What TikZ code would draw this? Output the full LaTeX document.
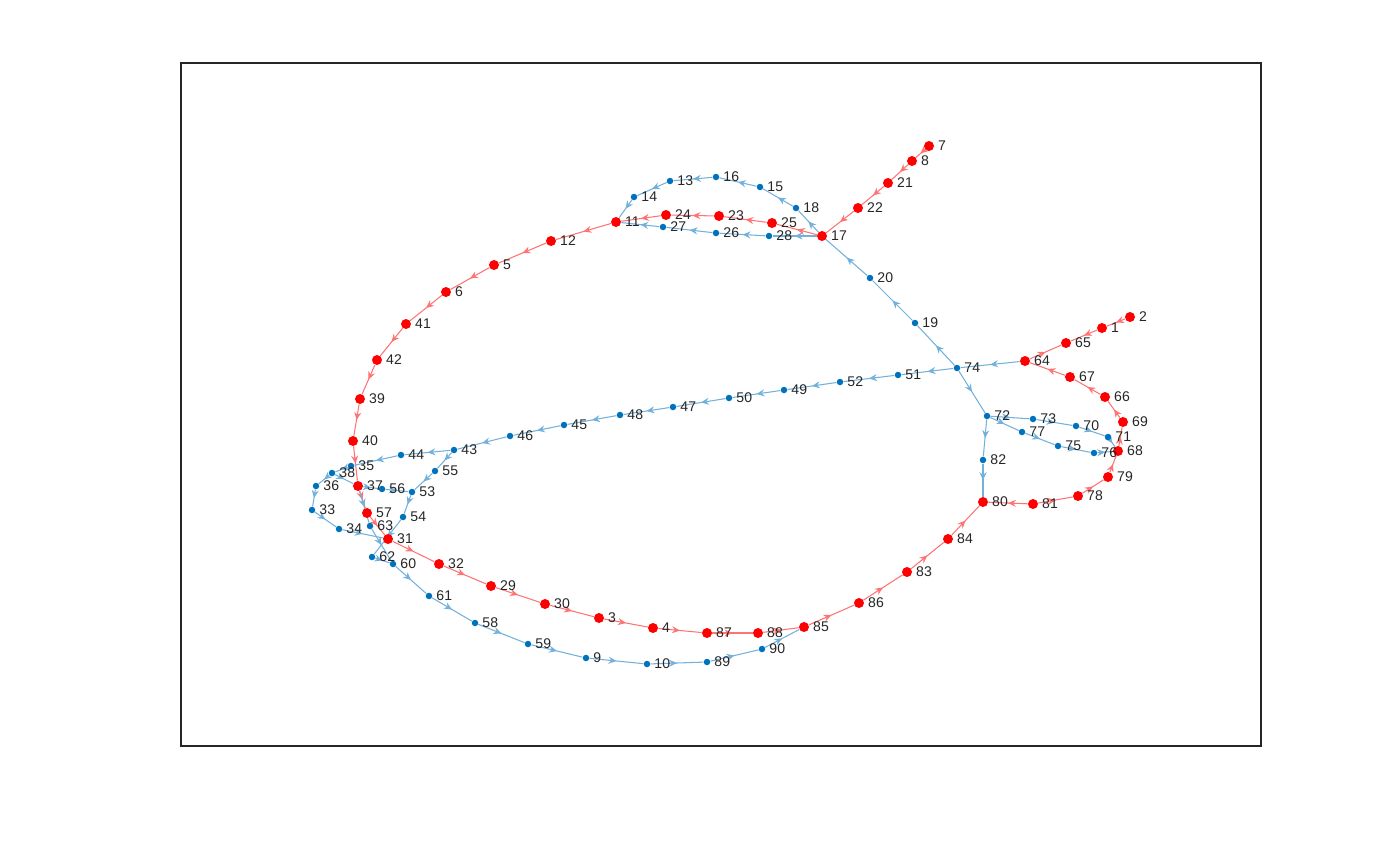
\documentclass[tikz,border=0pt]{standalone}
\usepackage{fontspec}
\setmainfont{Liberation Sans}
\usepackage{tikz}
\usetikzlibrary{arrows.meta, decorations.markings}
\definecolor{mblue}{RGB}{0,114,189}
\definecolor{lblgray}{RGB}{38,38,38}
\pgfdeclarelayer{edges}
\pgfsetlayers{edges,main}
\tikzset{
  rnode/.style={circle, fill=red, inner sep=0pt, minimum size=0.2cm}, % nodes on the path
  bnode/.style={circle, fill=mblue, inner sep=0pt, minimum size=0.13cm}, % other nodes
  every label/.style={font=\fontsize{8}{9}\selectfont, text=lblgray, inner sep=0pt},
  label distance=2pt,
  midarrow/.style={postaction={decorate, decoration={markings,
      mark=at position 0.5 with {\arrow{Stealth[length=4.5pt, width=4pt, inset=1.5pt]}}}}},
  redge/.style={draw=red!55, line width=0.6pt, midarrow}, % edges on the path
  bedge/.style={draw=mblue!55, line width=0.6pt, midarrow},
}
\begin{document}
\begin{tikzpicture}[x=0.02cm, y=-0.02cm]
  \useasboundingbox (0,0) rectangle (1394,840);
  \draw[lblgray, line width=0.6pt] (181,63) rectangle (1261,746);

  % red nodes
  \node[rnode, label=right:7] (v7) at (929,146) {};
  \node[rnode, label=right:8] (v8) at (912,161) {};
  \node[rnode, label=right:21] (v21) at (888,183) {};
  \node[rnode, label=right:22] (v22) at (858,208) {};
  \node[rnode, label=right:17] (v17) at (822,236) {};
  \node[rnode, label=right:25] (v25) at (772,223) {};
  \node[rnode, label=right:23] (v23) at (719,216) {};
  \node[rnode, label=right:24] (v24) at (666,215) {};
  \node[rnode, label=right:11] (v11) at (616,222) {};
  \node[rnode, label=right:12] (v12) at (551,241) {};
  \node[rnode, label=right:5] (v5) at (494,265) {};
  \node[rnode, label=right:6] (v6) at (446,292) {};
  \node[rnode, label=right:41] (v41) at (406,324) {};
  \node[rnode, label=right:42] (v42) at (377,360) {};
  \node[rnode, label=right:39] (v39) at (360,399) {};
  \node[rnode, label=right:40] (v40) at (353,441) {};
  \node[rnode, label=right:37] (v37) at (358,486) {};
  \node[rnode, label=right:57] (v57) at (367,513) {};
  \node[rnode, label=right:31] (v31) at (388,539) {};
  \node[rnode, label=right:32] (v32) at (439,564) {};
  \node[rnode, label=right:29] (v29) at (491,586) {};
  \node[rnode, label=right:30] (v30) at (545,604) {};
  \node[rnode, label=right:3] (v3) at (599,618) {};
  \node[rnode, label=right:4] (v4) at (653,628) {};
  \node[rnode, label=right:87] (v87) at (707,633) {};
  \node[rnode, label=right:88] (v88) at (758,633) {};
  \node[rnode, label=right:85] (v85) at (804,627) {};
  \node[rnode, label=right:86] (v86) at (859,603) {};
  \node[rnode, label=right:83] (v83) at (907,572) {};
  \node[rnode, label=right:84] (v84) at (948,539) {};
  \node[rnode, label=right:80] (v80) at (983,502) {};
  \node[rnode, label=right:81] (v81) at (1033,504) {};
  \node[rnode, label=right:78] (v78) at (1078,496) {};
  \node[rnode, label=right:79] (v79) at (1108,477) {};
  \node[rnode, label=right:68] (v68) at (1118,451) {};
  \node[rnode, label=right:69] (v69) at (1123,422) {};
  \node[rnode, label=right:66] (v66) at (1105,397) {};
  \node[rnode, label=right:67] (v67) at (1070,377) {};
  \node[rnode, label=right:64] (v64) at (1025,361) {};
  \node[rnode, label=right:65] (v65) at (1066,343) {};
  \node[rnode, label=right:1] (v1) at (1102,328) {};
  \node[rnode, label=right:2] (v2) at (1130,317) {};

  % blue nodes
  \node[bnode, label=right:18] (v18) at (796,208) {};
  \node[bnode, label=right:15] (v15) at (760,187) {};
  \node[bnode, label=right:16] (v16) at (716,177) {};
  \node[bnode, label=right:13] (v13) at (670,181) {};
  \node[bnode, label=right:14] (v14) at (634,197) {};
  \node[bnode, label=right:27] (v27) at (663,227) {};
  \node[bnode, label=right:26] (v26) at (716,233) {};
  \node[bnode, label=right:28] (v28) at (769,236) {};
  \node[bnode, label=right:20] (v20) at (870,278) {};
  \node[bnode, label=right:19] (v19) at (915,323) {};
  \node[bnode, label=right:74] (v74) at (957,368) {};
  \node[bnode, label=right:51] (v51) at (898,375) {};
  \node[bnode, label=right:52] (v52) at (840,382) {};
  \node[bnode, label=right:49] (v49) at (784,390) {};
  \node[bnode, label=right:50] (v50) at (729,398) {};
  \node[bnode, label=right:47] (v47) at (673,407) {};
  \node[bnode, label=right:48] (v48) at (620,415) {};
  \node[bnode, label=right:45] (v45) at (564,425) {};
  \node[bnode, label=right:46] (v46) at (510,436) {};
  \node[bnode, label=right:43] (v43) at (454,450) {};
  \node[bnode, label=right:44] (v44) at (401,455) {};
  \node[bnode, label=right:35] (v35) at (351,466) {};
  \node[bnode, label=right:38] (v38) at (332,473) {};
  \node[bnode, label=right:36] (v36) at (316,486) {};
  \node[bnode, label=right:33] (v33) at (312,510) {};
  \node[bnode, label=right:34] (v34) at (339,529) {};
  \node[bnode, label=right:56] (v56) at (382,489) {};
  \node[bnode, label=right:53] (v53) at (412,492) {};
  \node[bnode, label=right:55] (v55) at (435,471) {};
  \node[bnode, label=right:54] (v54) at (403,517) {};
  \node[bnode, label=right:63] (v63) at (370,526) {};
  \node[bnode, label=right:62] (v62) at (372,557) {};
  \node[bnode, label=right:60] (v60) at (393,564) {};
  \node[bnode, label=right:61] (v61) at (429,596) {};
  \node[bnode, label=right:58] (v58) at (475,623) {};
  \node[bnode, label=right:59] (v59) at (528,644) {};
  \node[bnode, label=right:9] (v9) at (586,658) {};
  \node[bnode, label=right:10] (v10) at (647,664) {};
  \node[bnode, label=right:89] (v89) at (707,662) {};
  \node[bnode, label=right:90] (v90) at (762,649) {};
  \node[bnode, label=right:72] (v72) at (987,416) {};
  \node[bnode, label=right:73] (v73) at (1033,419) {};
  \node[bnode, label=right:70] (v70) at (1076,426) {};
  \node[bnode, label=right:71] (v71) at (1108,437) {};
  \node[bnode, label=right:77] (v77) at (1022,432) {};
  \node[bnode, label=right:75] (v75) at (1058,446) {};
  \node[bnode, label=right:76] (v76) at (1094,453) {};
  \node[bnode, label=right:82] (v82) at (983,460) {};

  \begin{pgfonlayer}{edges}
  % red edges
  \draw[redge] (v7) -- (v8);
  \draw[redge] (v8) -- (v21);
  \draw[redge] (v21) -- (v22);
  \draw[redge] (v22) -- (v17);
  \draw[redge] (v17) -- (v25);
  \draw[redge] (v25) -- (v23);
  \draw[redge] (v23) -- (v24);
  \draw[redge] (v24) -- (v11);
  \draw[redge] (v11) -- (v12);
  \draw[redge] (v12) -- (v5);
  \draw[redge] (v5) -- (v6);
  \draw[redge] (v6) -- (v41);
  \draw[redge] (v41) -- (v42);
  \draw[redge] (v42) -- (v39);
  \draw[redge] (v39) -- (v40);
  \draw[redge] (v40) -- (v37);
  \draw[redge] (v37) -- (v57);
  \draw[redge] (v57) -- (v31);
  \draw[redge] (v31) -- (v32);
  \draw[redge] (v32) -- (v29);
  \draw[redge] (v29) -- (v30);
  \draw[redge] (v30) -- (v3);
  \draw[redge] (v3) -- (v4);
  \draw[redge] (v4) -- (v87);
  \draw[redge] (v87) -- (v88);
  \draw[redge] (v88) -- (v85);
  \draw[redge] (v85) -- (v86);
  \draw[redge] (v86) -- (v83);
  \draw[redge] (v83) -- (v84);
  \draw[redge] (v84) -- (v80);
  \draw[redge] (v81) -- (v80);
  \draw[redge] (v81) -- (v78);
  \draw[redge] (v78) -- (v79);
  \draw[redge] (v79) -- (v68);
  \draw[redge] (v68) -- (v69);
  \draw[redge] (v69) -- (v66);
  \draw[redge] (v66) -- (v67);
  \draw[redge] (v67) -- (v64);
  \draw[redge] (v64) -- (v65);
  \draw[redge] (v1) -- (v65);
  \draw[redge] (v2) -- (v1);
  % blue edges
  \draw[bedge] (v17) -- (v18);
  \draw[bedge] (v18) -- (v15);
  \draw[bedge] (v15) -- (v16);
  \draw[bedge] (v16) -- (v13);
  \draw[bedge] (v13) -- (v14);
  \draw[bedge] (v14) -- (v11);
  \draw[bedge] (v17) -- (v28);
  \draw[bedge] (v28) -- (v26);
  \draw[bedge] (v26) -- (v27);
  \draw[bedge] (v27) -- (v11);
  \draw[bedge] (v74) -- (v19);
  \draw[bedge] (v19) -- (v20);
  \draw[bedge] (v20) -- (v17);
  \draw[bedge] (v64) -- (v74);
  \draw[bedge] (v74) -- (v51);
  \draw[bedge] (v51) -- (v52);
  \draw[bedge] (v52) -- (v49);
  \draw[bedge] (v49) -- (v50);
  \draw[bedge] (v50) -- (v47);
  \draw[bedge] (v47) -- (v48);
  \draw[bedge] (v48) -- (v45);
  \draw[bedge] (v45) -- (v46);
  \draw[bedge] (v46) -- (v43);
  \draw[bedge] (v43) -- (v44);
  \draw[bedge] (v44) -- (v35);
  \draw[bedge] (v35) -- (v38);
  \draw[bedge] (v38) -- (v36);
  \draw[bedge] (v36) -- (v33);
  \draw[bedge] (v33) -- (v34);
  \draw[bedge] (v34) -- (v31);
  \draw[bedge] (v38) -- (v37);
  \draw[bedge] (v37) -- (v63);
  \draw[bedge] (v63) -- (v60);
  \draw[bedge] (v37) -- (v56);
  \draw[bedge] (v56) -- (v53);
  \draw[bedge] (v43) -- (v55);
  \draw[bedge] (v55) -- (v53);
  \draw[bedge] (v53) -- (v54);
  \draw[bedge] (v54) -- (v62);
  \draw[bedge] (v62) -- (v60);
  \draw[bedge] (v60) -- (v61);
  \draw[bedge] (v61) -- (v58);
  \draw[bedge] (v58) -- (v59);
  \draw[bedge] (v59) -- (v9);
  \draw[bedge] (v9) -- (v10);
  \draw[bedge] (v10) -- (v89);
  \draw[bedge] (v89) -- (v90);
  \draw[bedge] (v90) -- (v85);
  \draw[bedge] (v74) -- (v72);
  \draw[bedge] (v72) -- (v82);
  \draw[bedge] (v82) -- (v80);
  \draw[bedge] (v72) -- (v73);
  \draw[bedge] (v73) -- (v70);
  \draw[bedge] (v70) -- (v71);
  \draw[bedge] (v71) -- (v68);
  \draw[bedge] (v72) -- (v77);
  \draw[bedge] (v77) -- (v75);
  \draw[bedge] (v75) -- (v76);
  \draw[bedge] (v76) -- (v68);
  \end{pgfonlayer}
\end{tikzpicture}
\end{document}
